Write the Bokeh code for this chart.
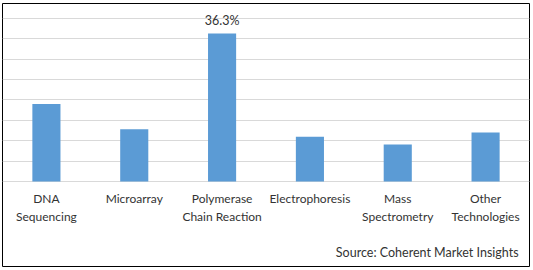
from bokeh.plotting import figure
from bokeh.models import ColumnDataSource, FixedTicker, Range1d, FactorRange
from bokeh.embed import file_html
from bokeh.resources import INLINE
from bokeh.core.properties import value

categories = ["DNA\nSequencing", "Microarray", "Polymerase\nChain Reaction",
              "Electrophoresis", "Mass\nSpectrometry", "Other\nTechnologies"]
shares = [19.0, 12.8, 36.3, 11.0, 9.1, 12.0]
label_category = "Polymerase\nChain Reaction"
label_value = 36.3
label_text = "36.3%"
grid_ticks = [0, 5, 10, 15, 20, 25, 30, 35, 40]
source_note = "Source: Coherent Market Insights"

FONT = "Lato"
TEXT = "#333333"

src = ColumnDataSource(dict(cat=categories, val=shares, base=[0] * len(categories)))

p = figure(width=533, height=270, x_range=FactorRange(*categories),
           y_range=Range1d(-20.86, 43.68), output_backend="svg", toolbar_location=None,
           min_border_left=2, min_border_right=4, min_border_top=3, min_border_bottom=4)
p.background_fill_color = "white"
p.border_fill_color = "white"
p.outline_line_color = "black"
p.outline_line_width = 1

p.xaxis.visible = False
p.yaxis.visible = False
p.xgrid.grid_line_color = None
p.ygrid.ticker = FixedTicker(ticks=grid_ticks)
p.ygrid.grid_line_color = "#d9d9d9"
p.ygrid.grid_line_width = 1

p.vbar(x="cat", top="val", width=0.32, source=src, color="#5b9bd5", line_color=None)

# value label above the tallest bar
p.text(x=[label_category], y=[label_value], text=[label_text], text_align="center",
       text_baseline="bottom", y_offset=-6, text_font=value(FONT), text_font_size="12.5px",
       text_color=TEXT)

# category labels under the baseline
p.text(x="cat", y="base", text="cat", source=src, text_align="center",
       text_baseline="top", y_offset=10, text_font=value(FONT), text_font_size="12px",
       text_line_height=1.15, text_color=TEXT)

# source note, bottom right
p.text(x=[categories[-1]], y=[0], text=[source_note], text_align="right",
       text_baseline="middle", x_offset=33, y_offset=71, text_font=value(FONT),
       text_font_size="12.5px", text_color=TEXT)

open("out.html", "w").write(file_html(p, INLINE))
